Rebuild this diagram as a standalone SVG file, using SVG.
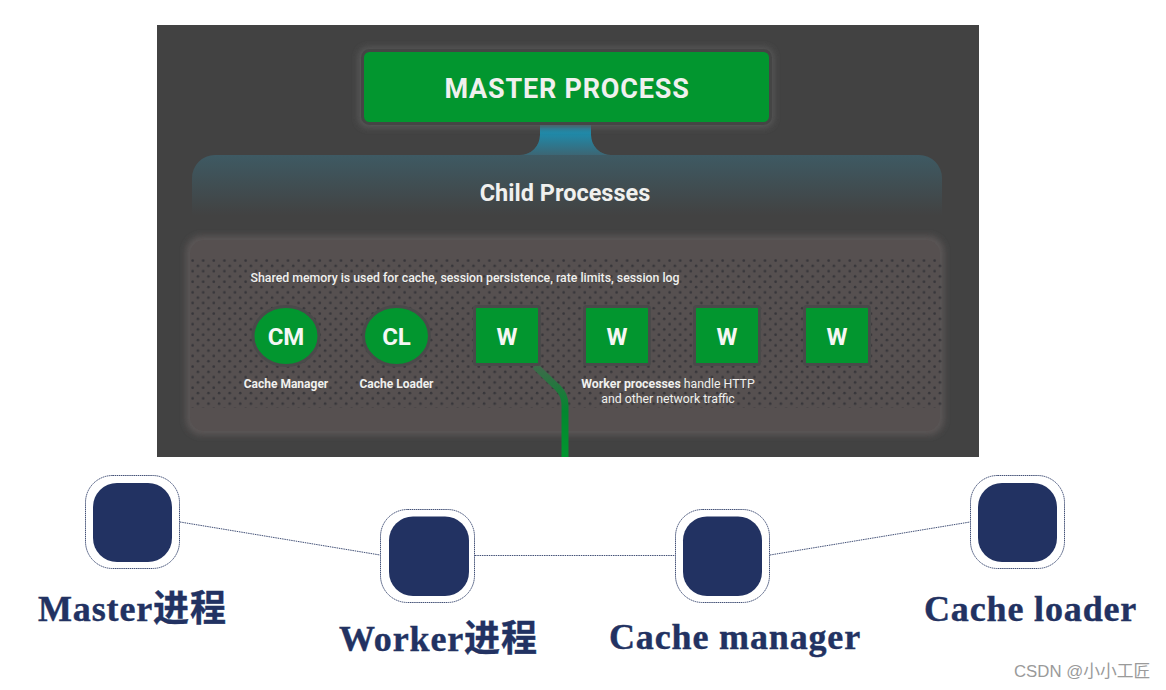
<svg xmlns="http://www.w3.org/2000/svg" width="1166" height="690" viewBox="0 0 1166 690">
<style>
.u{font-family:Roboto,"Liberation Sans",sans-serif;fill:#f0f0ee;text-anchor:middle}
.b{font-weight:700}
.s{font-size:12.300px}
.l{font-size:12px;font-weight:700}
.n{font-size:24px;font-weight:700;fill:#f4f7f4}
.g{fill:#02962f;stroke:#4a4a4a;stroke-width:3}
.o{fill:#fff;stroke:#22325f;stroke-width:1;stroke-dasharray:1.5 .6;stroke-opacity:.85}
.i{fill:#223262}
.t{font-family:"Liberation Serif","Noto Sans CJK SC",serif;font-weight:700;fill:#223262;stroke:#223262;stroke-width:.4;font-size:36px;letter-spacing:.85px}
.c{stroke:#22325f;stroke-width:1;stroke-dasharray:1.5 .8;fill:none;stroke-opacity:.85}
</style>
<defs>
<linearGradient id="fade" x1="0" y1="0" x2="0" y2="1"><stop offset="0" stop-color="#3c6674"/><stop offset="1" stop-color="#424242"/></linearGradient>
<linearGradient id="neck" x1="0" y1="0" x2="0" y2="1"><stop offset="0" stop-color="#129ac2"/><stop offset="1" stop-color="#3c6674"/></linearGradient>
<linearGradient id="wire" x1="0" y1="0" x2="0" y2="1"><stop offset="0" stop-color="#3f6a4b"/><stop offset="0.5" stop-color="#02862f"/><stop offset="1" stop-color="#02962f"/></linearGradient>
<pattern id="dots" width="10.6" height="10.6" patternUnits="userSpaceOnUse" x="190" y="258"><circle cx="2.6" cy="2.6" r="1.35" fill="#37363a"/><circle cx="7.9" cy="7.9" r="1.35" fill="#37363a"/></pattern>
<filter id="soft" x="-5%" y="-10%" width="110%" height="120%"><feGaussianBlur stdDeviation="3"/></filter>
</defs>
<rect width="1166" height="690" fill="#fff"/>
<g id="panel">
<rect x="157" y="25" width="822" height="432" fill="#424242"/>
<rect x="186" y="236" width="758" height="199" rx="16" fill="#5c5757" filter="url(#soft)"/>
<rect x="190" y="240" width="750" height="191" rx="14" fill="#565050"/>
<rect x="190" y="258" width="752" height="150" fill="url(#dots)"/>
</g>
<g id="child-processes">
<path d="M192 215V178a23 23 0 0 1 23-23H520a20 20 0 0 0 20-20V124H591V135a20 20 0 0 0 20 20H919a23 23 0 0 1 23 23V215Z" fill="url(#fade)"/>
<path d="M540 124H591V135a20 20 0 0 0 20 20H520a20 20 0 0 0 20-20Z" fill="url(#neck)"/>
<text class="u b" x="565" y="200.500" font-size="23.500">Child Processes</text>
</g>
<g id="master-process">
<rect x="358" y="47" width="416" height="81" rx="10" fill="#565656" filter="url(#soft)"/>
<rect x="362.500" y="50.500" width="408" height="73" rx="7" fill="#02962f" stroke="#454545" stroke-width="3"/>
<text class="u b" x="567" y="97.500" font-size="27" letter-spacing=".8">MASTER PROCESS</text>
</g>
<text class="u s" x="465" y="282" style="font-weight:500">Shared memory is used for cache, session persistence, rate limits, session log</text>
<g id="connectors">
<path d="M535 366L558 388Q565 395 565 405V457" fill="none" stroke="url(#wire)" stroke-width="7"/>
<line class="c" x1="180" y1="522" x2="380" y2="555"/>
<line class="c" x1="475" y1="555.500" x2="675" y2="555.500"/>
<line class="c" x1="770" y1="555" x2="970" y2="522"/>
</g>
<g id="cm"><ellipse class="g" cx="286" cy="336" rx="33" ry="29.500"/><text class="u n" x="286" y="344.500">CM</text><text class="u l" x="286" y="388">Cache Manager</text></g>
<g id="cl"><ellipse class="g" cx="396.500" cy="336" rx="33" ry="29.500"/><text class="u n" x="396.500" y="344.500">CL</text><text class="u l" x="396.500" y="388">Cache Loader</text></g>
<g id="w1"><rect class="g" x="474.500" y="306.500" width="65" height="58" rx="2"/><text class="u n" x="507" y="344.500">W</text></g>
<g id="w2"><rect class="g" x="584.500" y="306.500" width="65" height="58" rx="2"/><text class="u n" x="617" y="344.500">W</text></g>
<g id="w3"><rect class="g" x="694.500" y="306.500" width="65" height="58" rx="2"/><text class="u n" x="727" y="344.500">W</text></g>
<g id="w4"><rect class="g" x="804.500" y="306.500" width="65" height="58" rx="2"/><text class="u n" x="837" y="344.500">W</text></g>
<text class="u s" x="668" y="388"><tspan class="b">Worker processes</tspan> handle HTTP</text>
<text class="u s" x="668" y="403">and other network traffic</text>
<g id="master"><rect class="o" x="85.500" y="475.500" width="94" height="93" rx="27"/><rect class="i" x="93" y="483" width="79" height="79" rx="24"/><text class="t" x="38" y="621">Master进程</text></g>
<g id="worker"><rect class="o" x="380.500" y="509.500" width="94" height="93" rx="27"/><rect class="i" x="389" y="516.500" width="80" height="79.500" rx="24"/><text class="t" x="339" y="651">Worker进程</text></g>
<g id="cache-manager"><rect class="o" x="675.500" y="509.500" width="94" height="93" rx="27"/><rect class="i" x="683" y="516.500" width="79" height="79.500" rx="24"/><text class="t" x="609" y="649">Cache manager</text></g>
<g id="cache-loader"><rect class="o" x="970.500" y="475.500" width="94" height="93" rx="27"/><rect class="i" x="978" y="483" width="79" height="79" rx="24"/><text class="t" x="924" y="621">Cache loader</text></g>
<text x="1014" y="677" font-family="'Liberation Sans','Noto Sans CJK SC',sans-serif" font-size="16.800" fill="#9a9a9a">CSDN @小小工匠</text>
</svg>
